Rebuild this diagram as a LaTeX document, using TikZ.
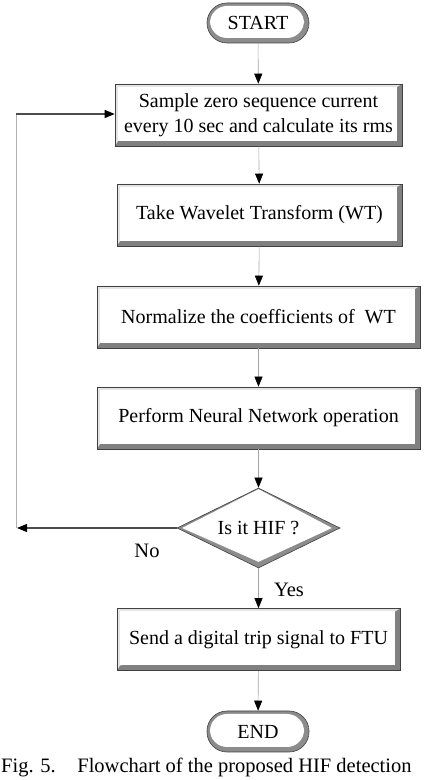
\documentclass[tikz,border=0pt]{standalone}
\usepackage{fontspec}
\setmainfont{Liberation Serif}
\usetikzlibrary{arrows.meta,shapes.geometric,calc}
\newcommand{\ppbb}{path picture bounding box}
\tikzset{
  txt/.style={font=\fontsize{20}{24.5}\selectfont, align=center},
  bevelrect/.style={
    path picture={
      \fill[black!50] (\ppbb.south west) rectangle (\ppbb.north east);
      \fill[gray!20] (\ppbb.south west) -- (\ppbb.north west) -- (\ppbb.north east)
        -- ($(\ppbb.north east)+(-5,-3)$) -- ($(\ppbb.south west)+(3,5)$) -- cycle;
      \fill[white] ($(\ppbb.south west)+(3,5)$) rectangle ($(\ppbb.north east)+(-5,-3)$);
    }},
  procbox/.style={rectangle, draw=black!75, line width=0.6pt, minimum height=62pt,
    inner sep=0pt, txt, bevelrect},
  pill/.style={rectangle, rounded corners=20pt, draw=black!75, line width=0.6pt,
    minimum width=102pt, minimum height=40pt, inner sep=0pt, txt,
    path picture={
      \fill[black!45] (\ppbb.south west) rectangle (\ppbb.north east);
      \fill[white, rounded corners=17pt] ($(\ppbb.south west)+(3,5)$) rectangle ($(\ppbb.north east)+(-5,-3)$);
    }},
  decision/.style={diamond, draw=black!75, line width=0.6pt, minimum width=163pt,
    minimum height=80pt, aspect=2.04, inner sep=0pt, txt,
    path picture={
      \fill[black!45] (\ppbb.west) -- (\ppbb.south) -- (\ppbb.east) -- (\ppbb.north) -- cycle;
      \fill[white] ($(\ppbb.west)+(5,0)$) -- ($(\ppbb.south)+(0,6)$) -- ($(\ppbb.east)+(-8,0)$)
        -- ($(\ppbb.north)+(0,-1)$) -- cycle;
    }},
  arr/.style={draw=gray!70, line width=0.6pt, -{Triangle[length=10pt,width=8pt,fill=black,color=black]}},
  harr/.style={draw=black!70, line width=1.1pt, -{Triangle[length=10pt,width=8pt,fill=black,color=black]}},
  lab/.style={font=\fontsize{20.5}{24}\selectfont}
}
\begin{document}
\begin{tikzpicture}[x=1pt,y=1pt]
\useasboundingbox (0,0) rectangle (430,780);
\node[pill] (start) at (258,757) {START};
\node[procbox, minimum width=287pt] (b1) at (258.5,665) {Sample zero sequence current\\every 10 sec and calculate its rms};
\node[procbox, minimum width=285pt] (b2) at (259.5,565) {Take Wavelet Transform (WT)};
\node[procbox, minimum width=323pt] (b3) at (258.5,463) {Normalize the coefficients of\ \ WT};
\node[procbox, minimum width=323pt] (b4) at (258.5,362) {Perform Neural Network operation};
\node[decision] (dia) at (258.5,252) {Is it HIF ?};
\node[procbox, minimum width=283pt] (b5) at (258.5,140.5) {Send a digital trip signal to FTU};
\node[pill, minimum height=41pt] (end) at (258,48.5) {END};
\coordinate (c1) at (17,252);
\coordinate (c2) at (16,252);
\draw[arr] (start) -- (b1);
\draw[arr] (b1) -- (b2);
\draw[arr] (b2) -- (b3);
\draw[arr] (b3) -- (b4);
\draw[arr] (b4) -- (dia);
\draw[arr] (dia) -- (b5);
\draw[arr] (b5) -- (end);
\draw[harr] (dia.west) -- (c1);
\draw[draw=gray!60, line width=0.6pt] (c2) -- (16,666);
\draw[harr] (16,666) -- (b1.west |- 0,666);
\node[lab] (no) at (147,229) {No};
\node[lab] (yes) at (289,190) {Yes};
\node[font=\fontsize{20.5}{24}\selectfont, anchor=base west, inner sep=0pt] (cap) at (1,7) {Fig. 5.\hspace{1.05em}Flowchart of the proposed HIF detection};
\end{tikzpicture}
\end{document}
